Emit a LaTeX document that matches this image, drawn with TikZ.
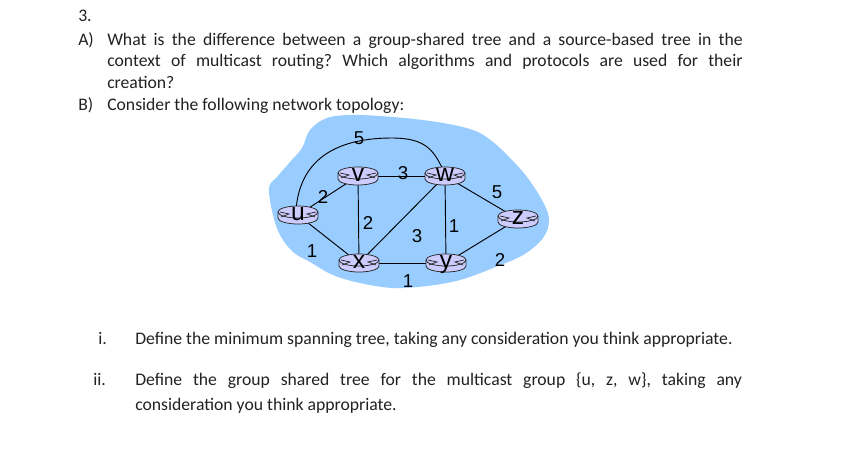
\documentclass[tikz,border=0pt]{standalone}
\usepackage{fontspec}
\usetikzlibrary{shapes.geometric}
\setmainfont{Carlito}
\newfontfamily\labelfont{Liberation Sans}
\pgfdeclarelayer{bg}
\pgfdeclarelayer{mid}
\pgfsetlayers{bg,mid,main}
\definecolor{cloud}{HTML}{99CCFF}
\definecolor{routerfill}{HTML}{CCCCFF}
\definecolor{ink}{HTML}{222222}
\frenchspacing
\tikzset{
  para/.style={anchor=base west,inner sep=0pt,text=ink,font=\fontsize{13.25}{15}\selectfont},
  routerbox/.style={shape=ellipse,minimum width=30pt,minimum height=13.5pt,inner sep=0pt,text height=8pt,text depth=0pt,text=black,font=\labelfont\fontsize{18.5}{18.5}\selectfont},
  weight/.style={inner sep=0pt,text=black,font=\labelfont\fontsize{14}{14}\selectfont},
  link/.style={draw=black,line width=0.7pt},
  routerline/.style={draw=black!85,line width=0.55pt},
}
\newcommand{\router}[3]{%
  \node[routerbox] (#1) at (#2) {#3};
  \begin{pgfonlayer}{mid}
  \begin{scope}[shift={(#2)}]
    \fill[routerfill] (-20,-3) -- (-20,3) arc[x radius=20,y radius=6,start angle=180,end angle=0] -- (20,-3) -- cycle;
    \fill[routerfill] (0,-3) ellipse[x radius=20,y radius=6];
    \draw[routerline] (-20,-3) -- (-20,3) arc[x radius=20,y radius=6,start angle=180,end angle=0] -- (20,-3);
    \draw[routerline] (0,-3) ellipse[x radius=20,y radius=6];
    \draw[routerline] (-18,-3) -- (-9,-1) -- (-17,2);
    \draw[routerline] (18,-3) -- (9,-1) -- (17,2);
  \end{scope}
  \end{pgfonlayer}%
}
\begin{document}
\begin{tikzpicture}[x=0.75pt,y=-0.75pt]
\useasboundingbox (0,0) rectangle (859,461);
\begin{pgfonlayer}{bg}
\fill[white] (0,0) rectangle (859,461);
\fill[cloud] plot[smooth cycle,tension=0.6] coordinates {
 (269,188) (277,177) (290,162) (302,148) (310,130) (327,118) (353,115) (393,117)
 (437,122) (473,130) (493,142) (510,158) (527,177) (543,202) (549,220) (543,238)
 (523,255) (493,268) (460,280) (427,286) (393,288) (360,283) (333,275) (310,262)
 (293,252) (280,235) (273,215)};
\end{pgfonlayer}
\node[para] (n3) at (78,21) {3.};
\node[para] (a) at (78,45) {A)};
\node[para] (a1) at (107,45) {\makebox[476.5pt][s]{What is the difference between a group-shared tree and a source-based tree in the}};
\node[para] (a2) at (107,66) {\makebox[476.5pt][s]{context of multicast routing? Which algorithms and protocols are used for their}};
\node[para] (a3) at (107,88) {creation?};
\node[para] (b) at (78,110) {B)};
\node[para] (b1) at (107,110) {Consider the following network topology:};
\node[para] (i) at (98,344) {i.};
\node[para] (i1) at (135,344) {Define the minimum spanning tree, taking any consideration you think appropriate.};
\node[para] (ii) at (93,385) {ii.};
\node[para] (ii1) at (135,385) {\makebox[455pt][s]{Define the group shared tree for the multicast group \{u, z, w\}, taking any}};
\node[para] (ii2) at (135,410) {consideration you think appropriate.};
\router{u}{298,215}{u}
\router{v}{358,176}{v}
\router{w}{445,176}{w}
\router{z}{518,219}{z}
\router{x}{359,263}{x}
\router{y}{446,263}{y}
\coordinate (arctop) at (392,138);
\begin{pgfonlayer}{bg}
\draw[link] (u.100) .. controls (303,150) and (350,138) .. (arctop) .. controls (425,138) and (433,150) .. (w.110);
\draw[link] (u) -- (v);
\draw[link] (u) -- (x);
\draw[link] (v) -- (w);
\draw[link] (v) -- (x);
\draw[link] (w) -- (x);
\draw[link] (w) -- (y);
\draw[link] (w) -- (z);
\draw[link] (x) -- (y);
\draw[link] (y) -- (z);
\end{pgfonlayer}
\node[weight] (w1) at (359,138) {5};
\node[weight] (w2) at (403,173) {3};
\node[weight] (w3) at (323,197) {2};
\node[weight] (w4) at (368,223) {2};
\node[weight] (w5) at (417,236) {3};
\node[weight] (w6) at (454,226) {1};
\node[weight] (w7) at (497,192) {5};
\node[weight] (w8) at (500,260) {2};
\node[weight] (w9) at (312,251) {1};
\node[weight] (w10) at (408,281) {1};
\end{tikzpicture}
\end{document}
